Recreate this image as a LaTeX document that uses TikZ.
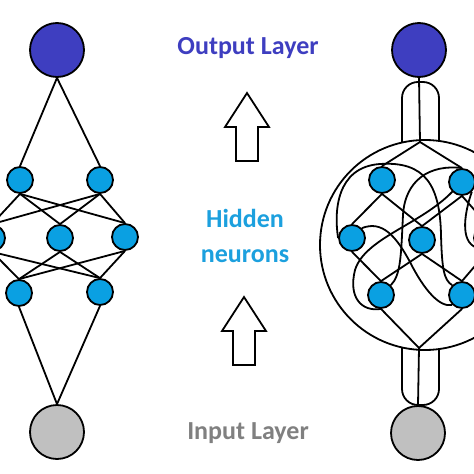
\documentclass[tikz,border=0pt]{standalone}
\usepackage{fontspec}
\setmainfont{Carlito}
\pgfdeclarelayer{background}
\pgfsetlayers{background,main}
\definecolor{outblue}{RGB}{62,62,192}
\definecolor{hidblue}{RGB}{10,160,226}
\definecolor{ingray}{RGB}{192,192,192}
\definecolor{labgray}{RGB}{128,128,128}
\definecolor{labcyan}{RGB}{28,160,222}
\tikzset{
  neuron/.style={circle, draw, line width=1.8pt, fill=hidblue,
    minimum size=26pt, inner sep=0pt},
  bigneuron/.style={neuron, minimum size=54pt},
  link/.style={line width=1.8pt},
  laytext/.style={font=\bfseries\fontsize{26}{35}\selectfont, align=center}
}
\begin{document}
\begin{tikzpicture}[x=1pt,y=-1pt]
  \useasboundingbox (0,0) rectangle (474,474);

  %% left net: plain layers
  \node[bigneuron, fill=outblue] (lout) at (57,50) {};
  \node[bigneuron, fill=ingray] (lin) at (57,432) {};
  \node[neuron] (ltl) at (20,180) {};
  \node[neuron] (ltr) at (100,180) {};
  \node[neuron] (lml) at (-8,238) {};
  \node[neuron] (lmc) at (60,238) {};
  \node[neuron] (lmr) at (125,237) {};
  \node[neuron] (lbl) at (19,293) {};
  \node[neuron] (lbr) at (100,292) {};

  \begin{pgfonlayer}{background}
    \draw[link] (lout.south) -- (ltl.north);
    \draw[link] (lout.south) -- (ltr.north);
    \draw[link] (lbl.south) -- (lin.north);
    \draw[link] (lbr.south) -- (lin.north);
    \foreach \a in {ltl,ltr}
      \foreach \b in {lml,lmc,lmr}
        \draw[link] (\a.south) -- (\b.north);
    \foreach \a in {lml,lmc,lmr}
      \foreach \b in {lbl,lbr}
        \draw[link] (\a.south) -- (\b.north);
  \end{pgfonlayer}

  %% labels and arrows in the middle
  \node[laytext, text=outblue] (outlab) at (248,48) {Output Layer};
  \node[laytext, text=labcyan] (hidlab) at (245,236) {Hidden\\neurons};
  \node[laytext, text=labgray] (inlab) at (248,433) {Input Layer};

  \foreach \tx/\ty in {247/93, 244/297}
    \draw[link, fill=white] (\tx,\ty) -- ++(22,34) -- ++(-11,0) -- ++(0,34)
      -- ++(-22,0) -- ++(0,-34) -- ++(-11,0) -- cycle;

  %% right net: tangled hidden layer inside a hull
  \node[bigneuron, fill=outblue] (rout) at (419,50) {};
  \node[bigneuron, fill=ingray] (rin) at (418,433) {};
  \node[circle, draw, line width=1.8pt, minimum size=210pt, inner sep=0pt]
    (hull) at (425,245) {};
  \node[neuron] (rtl) at (382,180) {};
  \node[neuron] (rtr) at (462,182) {};
  \node[neuron] (rml) at (352,238) {};
  \node[neuron] (rmc) at (422,240) {};
  \node[neuron] (rmr) at (487,238) {};
  \node[neuron] (rbl) at (381,295) {};
  \node[neuron] (rbr) at (462,295) {};
  \coordinate (rtop) at (420,142);
  \coordinate (rbot) at (419,348);

  \begin{pgfonlayer}{background}
    %% tubes
    \draw[link, rounded corners=16pt] (402,142.5) -- (402,82) -- (439,82) -- (439,141);
    \draw[link, rounded corners=16pt] (402,347.5) -- (402,405) -- (439,405) -- (439,349);
    \draw[link] (rout.south) -- (rtop);
    \draw[link] (rbot) -- (rin.north);
    %% diamond
    \draw[link] (rtop) -- (rtl.north);
    \draw[link] (rtop) -- (rtr.north);
    \draw[link] (rbl.south) -- (rbot);
    \draw[link] (rbr.south) -- (rbot);
    %% straight links
    \draw[link] (rtl.south) -- (rml.north);
    \draw[link] (rtl.south) -- (rmc.north);
    \draw[link] (rtr.south) -- (rmc.north);
    \draw[link] (rtr.south) -- (rmr.north);
    \draw[link] (rml.south) -- (rbl.north);
    \draw[link] (rmc.south) -- (rbl.north);
    \draw[link] (rmc.south) -- (rbr.north);
    \draw[link] (rmr.south) -- (rbr.north);
    %% curved links
    \draw[link] (rml.west) .. controls (334,212) and (336,167) .. (380,164)
      .. controls (425,161) and (440,185) .. (441,235)
      .. controls (442,270) and (444,280) .. (rbr.north west);
    \draw[link] (rtr.south west) .. controls (420,225) and (365,238) .. (355,270)
      .. controls (348,298) and (362,312) .. (rbl.south);
    \draw[link] (rtr.north) .. controls (430,164) and (405,180) .. (403,215)
      .. controls (401,255) and (401,275) .. (rbl.north east);
    \draw[link] (rml.north east) .. controls (382,220) and (396,236) .. (410,262)
      .. controls (424,290) and (440,308) .. (rbr.south west);
    \draw[link] (rtr.south east) .. controls (466,208) and (458,242) .. (rmr.south west);
  \end{pgfonlayer}
\end{tikzpicture}
\end{document}
